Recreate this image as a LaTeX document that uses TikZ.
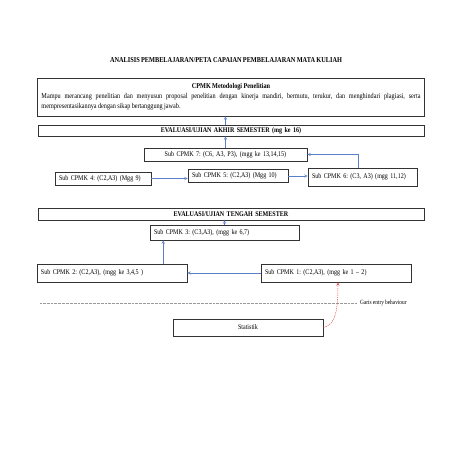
\documentclass[tikz,border=0pt]{standalone}
\usepackage{fontspec}
\setmainfont{Liberation Serif}[FakeStretch=0.84, WordSpace=0.85]
\usetikzlibrary{%
  arrows,
  calc
}

\definecolor{linkblue}{HTML}{5B7FC4}
\definecolor{linkred}{HTML}{E04848}
\definecolor{boxline}{HTML}{333333}

\begin{document}
\frenchspacing
\hyphenpenalty=10000
\exhyphenpenalty=10000
\begin{tikzpicture}[x=1pt, y=-1pt, >=stealth,
    box/.style={draw=boxline, line width=0.75pt, inner ysep=0pt, inner xsep=4pt,
      font=\fontsize{7.2}{8.5}\selectfont},
    subbox/.style={box, align=left, text width=#1},
    midbox/.style={box, align=center, text width=#1},
    link/.style={->, color=linkblue, line width=0.5pt}
  ]
    \useasboundingbox (0,0) rectangle (453,453);

    % judul
    \node[font=\fontsize{7.5}{8.5}\selectfont\bfseries] (judul) at (226,60)
      {ANALISIS PEMBELAJARAN/PETA CAPAIAN PEMBELAJARAN MATA KULIAH};

    % CPMK
    \node[box, align=justify, text width=379pt, minimum height=38pt,
      font=\fontsize{7.4}{9.8}\selectfont] (cpmk) at (231,97)
      {{\centering\textbf{CPMK Metodologi Penelitian}\par}
       Mampu merancang penelitian dan menyusun proposal penelitian dengan kinerja mandiri, bermutu, terukur, dan menghindari plagiasi, serta mempresentasikannya dengan sikap bertanggung jawab.};

    \node[midbox=378pt, minimum height=11pt, font=\fontsize{7.2}{8.5}\selectfont\bfseries] (akhir) at (231,130.5)
      {EVALUASI/UJIAN AKHIR SEMESTER (mg ke 16)};

    % sub cpmk 4 - 7
    \node[midbox=155pt, minimum height=13pt] (s7) at (225.5,154.5)
      {Sub CPMK 7: (C6, A3, P3), (mgg ke 13,14,15)};
    \node[subbox=88pt, minimum height=13pt] (s4) at (103,178.5)
      {Sub CPMK 4: (C2,A3) (Mgg 9)};
    \node[subbox=92pt, minimum height=13pt] (s5) at (238,176)
      {Sub CPMK 5: (C2,A3) (Mgg 10)};
    \node[subbox=101pt, minimum height=18pt] (s6) at (362.5,177)
      {Sub CPMK 6: (C3, A3) (mgg 11,12)};

    \node[midbox=378pt, minimum height=12pt, font=\fontsize{7.2}{8.5}\selectfont\bfseries] (tengah) at (231,214)
      {EVALUASI/UJIAN TENGAH SEMESTER};

    % sub cpmk 1 - 3
    \node[subbox=141pt, minimum height=15pt] (s3) at (224.5,232.5)
      {Sub CPMK 3: (C3,A3), (mgg ke 6,7)};
    \node[subbox=142pt, minimum height=18pt] (s2) at (112,273)
      {Sub CPMK 2: (C2,A3), (mgg ke 3,4,5 )};
    \node[subbox=142pt, minimum height=18pt] (s1) at (336,273)
      {Sub CPMK 1: (C2,A3), (mgg ke 1 -- 2)};

    % garis entry behaviour
    \coordinate (garis) at (40,303);
    \draw[densely dotted, color=gray!80, line width=0.35pt] (garis) -- ++(317,0)
      node[right, inner sep=3pt, text=black, font=\fontsize{6.4}{7}\selectfont] (garislabel) {Garis entry behaviour};

    \node[midbox=142pt, minimum height=17pt] (stat) at (248,327.5) {Statistik};

    % titik bantu
    \coordinate (s6top) at ($(s6.north west)!0.46!(s6.north east)$);
    \coordinate (s2top) at ($(s2.north west)!0.84!(s2.north east)$);
    \coordinate (s1bot) at ($(s1.south west)!0.513!(s1.south east)$);

    % panah
    \draw[link] (s7.north |- akhir.north) -- (s7.north |- cpmk.south);
    \draw[link] (s7.north) -- (s7.north |- akhir.south);
    \draw[link] (s6top) |- (s7.east);
    \draw[link] (s4.east) -- (s4.east -| s5.west);
    \draw[link] (s5.east) -- (s5.east -| s6.west);
    \draw[link] (s3.north) -- (s3.north |- tengah.south);
    \draw[link] (s2top) -- (s2top |- s3.south);
    \draw[link] (s1.west) -- (s2.east);
    \draw[->, color=linkred, line width=0.5pt, dash pattern=on 1.2pt off 1pt]
      (stat.east) .. controls +(13,-2) and +(0,24) .. (s1bot);

  \end{tikzpicture}
\end{document}
